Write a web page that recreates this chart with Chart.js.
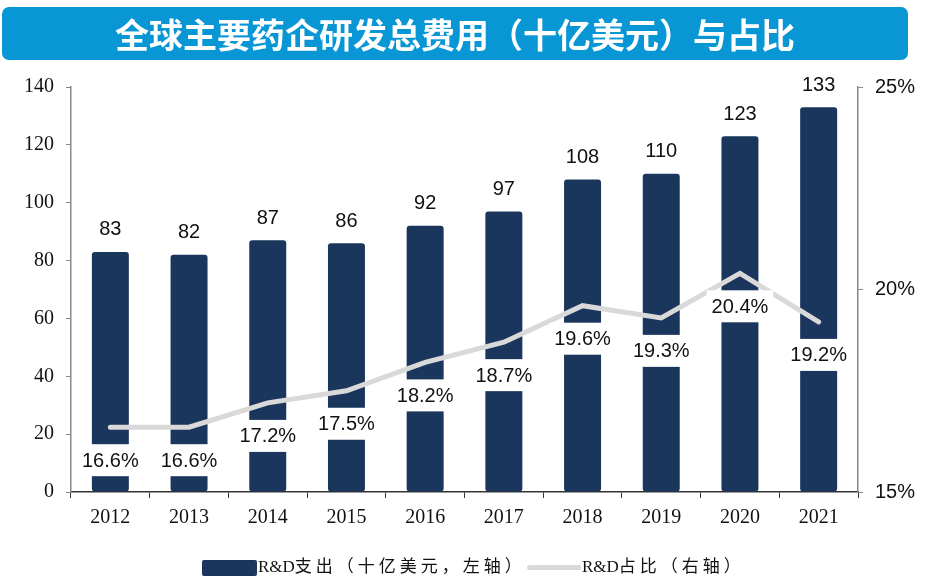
<!DOCTYPE html>
<html>
<head>
<meta charset="utf-8">
<script src="https://cdn.jsdelivr.net/npm/chart.js@4.4.0/dist/chart.umd.min.js"></script>
<style>
  html, body { margin: 0; padding: 0; background: #fff; }
  #wrap { position: relative; width: 926px; height: 582px; overflow: hidden; }
  #title {
    position: absolute; left: 2px; top: 7px; width: 906px; height: 53px;
    background: #0896d4; border-radius: 7px;
    color: #fff; font-family: "Noto Sans CJK SC", sans-serif; font-weight: 700;
    font-size: 34px; line-height: 53px; text-align: center;
  }
  #chart-box { position: absolute; left: 0; top: 0; width: 926px; height: 582px; }
  .legend { position: absolute; top: 556px; font-family: "Liberation Serif", "Noto Sans CJK SC", serif;
    font-size: 17px; letter-spacing: 4px; color: #111; white-space: nowrap; line-height: 22px; }
  .legend .lat { letter-spacing: 0; }
  .sw-bar { position: absolute; left: 202px; top: 560px; width: 55px; height: 16px; background: #1a365c; border-radius: 2px; }
  .sw-line { position: absolute; left: 527px; top: 565px; width: 54px; height: 5px; background: #d9d9d9; border-radius: 3px; }
</style>
</head>
<body>
<div id="wrap">
  <div id="chart-box"><canvas id="rd-chart" width="926" height="582"></canvas></div>
  <div id="title">全球主要药企研发总费用（十亿美元）与占比</div>
  <div class="sw-bar"></div>
  <div class="legend" style="left:258px;"><span class="lat">R&amp;D</span>支出（十亿美元，左轴）</div>
  <div class="sw-line"></div>
  <div class="legend" style="left:582px;"><span class="lat">R&amp;D</span>占比（右轴）</div>
</div>
<script>
var years = ["2012", "2013", "2014", "2015", "2016", "2017", "2018", "2019", "2020", "2021"];
var rdSpend = [83, 82, 87, 86, 92, 97, 108, 110, 123, 133];
var rdShare = [16.6, 16.6, 17.2, 17.5, 18.2, 18.7, 19.6, 19.3, 20.4, 19.2];

var navy = '#1a365c';
var lightGray = '#d9d9d9';

// value labels: numbers above bars, percentages in white boxes under the line
var labelPlugin = {
  id: 'labelPlugin',
  afterDatasetsDraw: function(chart) {
    var ctx = chart.ctx;
    ctx.save();
    ctx.font = '20px "Liberation Sans", Arial, sans-serif';
    ctx.textAlign = 'center';
    ctx.textBaseline = 'middle';

    var bars = chart.getDatasetMeta(0).data;
    bars.forEach(function(bar, i) {
      ctx.fillStyle = '#111';
      ctx.fillText(rdSpend[i], bar.x, bar.y - 22);
    });

    var pts = chart.getDatasetMeta(1).data;
    pts.forEach(function(pt, i) {
      var txt = rdShare[i].toFixed(1) + '%';
      var w = ctx.measureText(txt).width + 10;
      var cy = pt.y + 33;
      ctx.fillStyle = '#fff';
      ctx.fillRect(pt.x - w / 2, cy - 16, w, 32);
      ctx.fillStyle = '#111';
      ctx.fillText(txt, pt.x, cy + 1);
    });
    ctx.restore();
  }
};

var ctx = document.getElementById('rd-chart');

var myChart = new Chart(ctx, {
  type: 'bar',
  data: {
    labels: years,
    datasets: [
      {
        label: 'R&D支出（十亿美元，左轴）',
        data: rdSpend,
        backgroundColor: navy,
        borderRadius: 3,
        borderSkipped: false,
        barPercentage: 0.47,
        categoryPercentage: 1,
        yAxisID: 'y',
        order: 2
      },
      {
        type: 'line',
        label: 'R&D占比（右轴）',
        data: rdShare,
        borderColor: lightGray,
        borderWidth: 5,
        borderCapStyle: 'round',
        pointRadius: 0,
        tension: 0,
        yAxisID: 'y1',
        order: 1
      }
    ]
  },
  options: {
    responsive: false,
    animation: false,
    layout: { padding: { top: 87, bottom: 50, left: 0, right: 0 } },
    plugins: {
      legend: { display: false },
      tooltip: { enabled: false },
      title: { display: false }
    },
    scales: {
      x: {
        offset: true,
        grid: { offset: true, drawOnChartArea: false, color: '#333', tickLength: 6 },
        border: { color: '#333', width: 1.5 },
        ticks: {
          color: '#111', padding: 8,
          font: { family: '"Liberation Serif", "Times New Roman", serif', size: 20 }
        },
        afterFit: function(scale) { scale.height = 40; }
      },
      y: {
        position: 'left',
        min: 0, max: 140,
        grid: { drawOnChartArea: false, color: '#888', tickLength: 5 },
        border: { color: '#888', width: 1.5 },
        ticks: {
          stepSize: 20, color: '#111', padding: 12,
          font: { family: '"Liberation Serif", "Times New Roman", serif', size: 20 }
        },
        afterFit: function(scale) { scale.width = 71; }
      },
      y1: {
        position: 'right',
        min: 15, max: 25,
        grid: { drawOnChartArea: false, color: '#888', tickLength: 5 },
        border: { color: '#888', width: 1.5 },
        ticks: {
          stepSize: 5, color: '#111', padding: 12,
          font: { family: '"Liberation Sans", Arial, sans-serif', size: 20 },
          callback: function(v) { return v + '%'; }
        },
        afterFit: function(scale) { scale.width = 68; }
      }
    }
  },
  plugins: [labelPlugin]
});
</script>
</body>
</html>
